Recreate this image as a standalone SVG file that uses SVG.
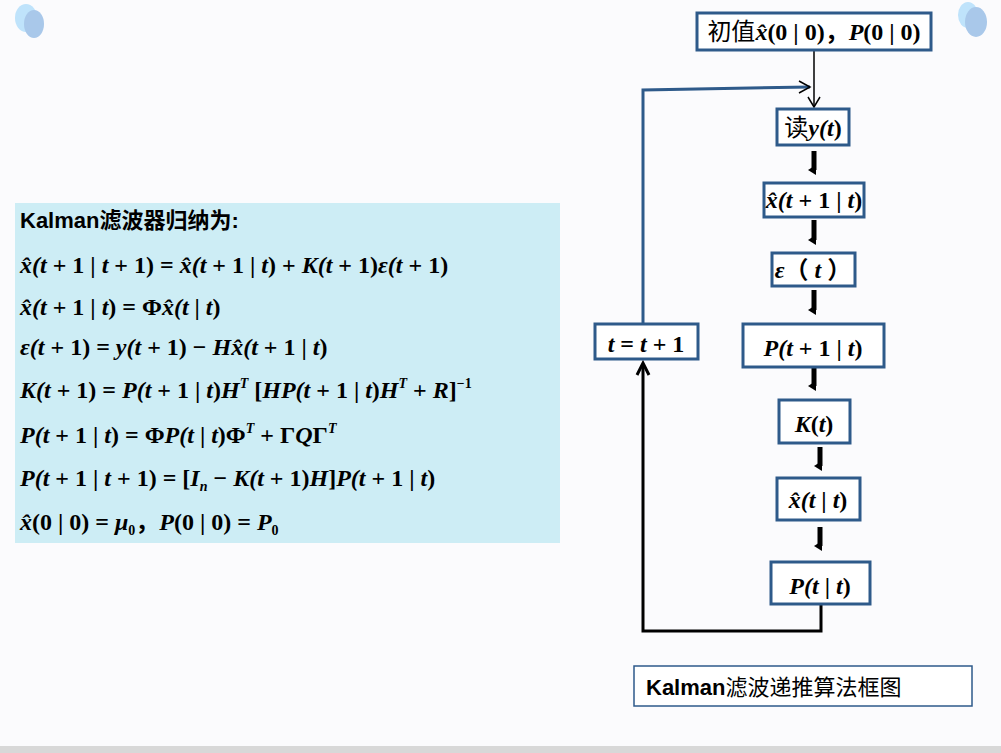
<svg xmlns="http://www.w3.org/2000/svg" width="1001" height="753" viewBox="0 0 1001 753">
<style>
.m{font-family:"Liberation Serif","Noto Sans CJK SC",serif;font-weight:bold;font-style:italic;fill:#000}
.r{font-style:normal}
.box{fill:#fff;stroke:#2e5a8a;stroke-width:3}
.f{font-family:"Liberation Serif","Noto Sans CJK SC",serif;font-weight:bold;font-size:24px}
.thick{stroke:#000;stroke-width:5;fill:none}
.loop{stroke:#000;stroke-width:3;fill:none}
</style>
<defs>
<marker id="ah" markerWidth="10" markerHeight="10" refX="5" refY="2" orient="auto" markerUnits="userSpaceOnUse" viewBox="0 0 10 10"><path d="M0,0 L10,0 L5,8 Z" fill="#000"/></marker>
</defs>
<rect width="1001" height="753" fill="#fbfbfd"/>
<rect x="0" y="746" width="1001" height="7" fill="#d8d8d8"/>
<ellipse cx="26" cy="18" rx="11" ry="14" fill="#bfe3fb"/><ellipse cx="34" cy="24" rx="10" ry="14" fill="#a9c8ea"/>
<ellipse cx="968" cy="15" rx="10" ry="13" fill="#bfe3fb"/><ellipse cx="976" cy="22" rx="11" ry="15" fill="#a9c8ea"/>
<g id="formulas">
<rect x="15" y="203" width="545" height="340" fill="#cdedf5"/>
<text class="f" x="20" y="228" style="font-family:'Liberation Sans','Noto Sans CJK SC',sans-serif;font-size:22px">Kalman滤波器归纳为:</text>
<text class="f m" x="20" y="273">x̂(t<tspan class="r"> + 1 | </tspan>t<tspan class="r"> + 1) = </tspan>x̂(t<tspan class="r"> + 1 | </tspan>t<tspan class="r">) + </tspan>K(t<tspan class="r"> + 1)</tspan>ε(t<tspan class="r"> + 1)</tspan></text>
<text class="f m" x="20" y="315">x̂(t<tspan class="r"> + 1 | </tspan>t<tspan class="r">) = Φ</tspan>x̂(t<tspan class="r"> | </tspan>t<tspan class="r">)</tspan></text>
<text class="f m" x="20" y="355">ε(t<tspan class="r"> + 1) = </tspan>y(t<tspan class="r"> + 1) − </tspan>Hx̂(t<tspan class="r"> + 1 | </tspan>t<tspan class="r">)</tspan></text>
<text class="f m" x="20" y="398">K(t<tspan class="r"> + 1) = </tspan>P(t<tspan class="r"> + 1 | </tspan>t<tspan class="r">)</tspan>H<tspan font-size="14" dy="-10">T</tspan><tspan class="r" dy="10"> [</tspan>HP(t<tspan class="r"> + 1 | </tspan>t<tspan class="r">)</tspan>H<tspan font-size="14" dy="-10">T</tspan><tspan class="r" dy="10"> + </tspan>R<tspan class="r">]</tspan><tspan class="r" font-size="14" dy="-10">−1</tspan></text>
<text class="f m" x="20" y="443">P(t<tspan class="r"> + 1 | </tspan>t<tspan class="r">) = Φ</tspan>P(t<tspan class="r"> | </tspan>t<tspan class="r">)Φ</tspan><tspan font-size="14" dy="-10">T</tspan><tspan class="r" dy="10"> + Γ</tspan>Q<tspan class="r">Γ</tspan><tspan font-size="14" dy="-10">T</tspan></text>
<text class="f m" x="20" y="486">P(t<tspan class="r"> + 1 | </tspan>t<tspan class="r"> + 1) = [</tspan>I<tspan font-size="14" dy="5">n</tspan><tspan class="r" dy="-5"> − </tspan>K(t<tspan class="r"> + 1)</tspan>H<tspan class="r">]</tspan>P(t<tspan class="r"> + 1 | </tspan>t<tspan class="r">)</tspan></text>
<text class="f m" x="20" y="530">x̂<tspan class="r">(0 | 0) = </tspan>μ<tspan class="r" font-size="14" dy="5">0</tspan><tspan class="r" dy="-5">，</tspan>P<tspan class="r">(0 | 0) = </tspan>P<tspan class="r" font-size="14" dy="5">0</tspan></text>
</g>
<g id="connectors">
<path d="M814,50 V106" stroke="#000" stroke-width="1.5" fill="none"/><path d="M808,97 L814,107 L820,97" stroke="#000" stroke-width="1.5" fill="none"/>
<path d="M643,324 V90 L810,87" stroke="#2e5a8a" stroke-width="3" fill="none"/><path d="M799,81 L810,87 L799,93" stroke="#000" stroke-width="1.5" fill="none"/>
<path d="M814,151 V170" class="thick" marker-end="url(#ah)"/>
<path d="M814,220 V240" class="thick" marker-end="url(#ah)"/>
<path d="M814,290 V310" class="thick" marker-end="url(#ah)"/>
<path d="M814,368 V386" class="thick" marker-end="url(#ah)"/>
<path d="M820,447 V466" class="thick" marker-end="url(#ah)"/>
<path d="M820,527 V546" class="thick" marker-end="url(#ah)"/>
<path d="M821,604 V631 H643 V364" class="loop"/><path d="M637,375 L643,363 L649,375" class="loop"/>
</g>
<g id="n-init"><rect class="box" x="697" y="13" width="234" height="37"/><text class="f m" x="814" y="40" text-anchor="middle"><tspan class="r" style="font-weight:normal">初值</tspan>x̂<tspan class="r">(0 | 0)，</tspan>P<tspan class="r">(0 | 0)</tspan></text></g>
<g id="n-y"><rect class="box" x="777" y="109" width="72" height="36"/><text class="f m" x="813" y="136" text-anchor="middle"><tspan class="r" style="font-weight:normal">读</tspan>y(t<tspan class="r">)</tspan></text></g>
<g id="n-xp"><rect class="box" x="764" y="183" width="100" height="34"/><text class="f m" x="814" y="208" text-anchor="middle" font-size="20">x̂(t<tspan class="r"> + 1 | </tspan>t<tspan class="r">)</tspan></text></g>
<g id="n-e"><rect class="box" x="772" y="253" width="83" height="33"/><text class="f m" x="813" y="278" text-anchor="middle" font-size="20">ε<tspan class="r">（ </tspan>t<tspan class="r"> ）</tspan></text></g>
<g id="n-pp"><rect class="box" x="743" y="324" width="141" height="43"/><text class="f m" x="813" y="356" text-anchor="middle" font-size="30">P(t<tspan class="r"> + 1 | </tspan>t<tspan class="r">)</tspan></text></g>
<g id="n-k"><rect class="box" x="779" y="400" width="71" height="43"/><text class="f m" x="814" y="432" text-anchor="middle" font-size="30">K<tspan class="r">(</tspan>t<tspan class="r">)</tspan></text></g>
<g id="n-xf"><rect class="box" x="777" y="478" width="83" height="42"/><text class="f m" x="818" y="508" text-anchor="middle" font-size="26">x̂(t<tspan class="r"> | </tspan>t<tspan class="r">)</tspan></text></g>
<g id="n-pf"><rect class="box" x="771" y="562" width="99" height="42"/><text class="f m" x="820" y="594" text-anchor="middle" font-size="30">P(t<tspan class="r"> | </tspan>t<tspan class="r">)</tspan></text></g>
<g id="n-t"><rect class="box" x="595" y="324" width="103" height="35"/><text class="f m" x="646" y="352" text-anchor="middle" font-size="26">t<tspan class="r"> = </tspan>t<tspan class="r"> + 1</tspan></text></g>
<g id="caption"><rect x="634" y="666" width="338" height="40" fill="#fff" stroke="#2e5a8a" stroke-width="1.5"/><text x="646" y="695" font-family="Liberation Sans,Noto Sans CJK SC,sans-serif" font-size="22" font-weight="bold">Kalman<tspan font-weight="normal">滤波递推算法框图</tspan></text></g>
</svg>
